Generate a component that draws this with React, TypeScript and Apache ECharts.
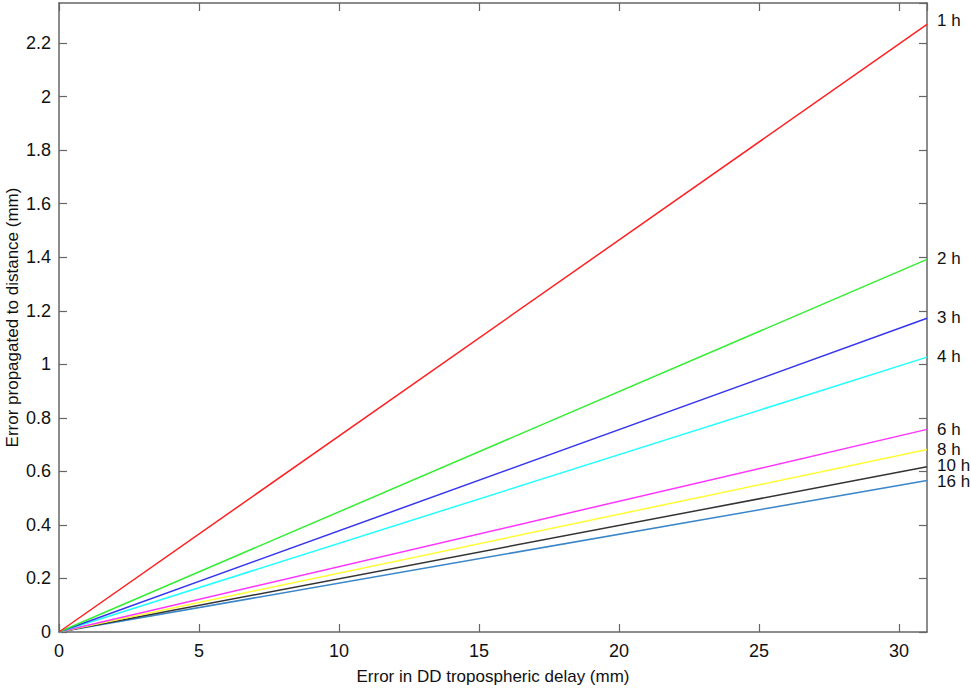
import React, { useEffect, useRef } from "react";
import * as echarts from "echarts";

const xEnds = [0, 31];
const seriesNames = ["1 h", "2 h", "3 h", "4 h", "6 h", "8 h", "10 h", "16 h"];
const endValues = [2.27, 1.392, 1.172, 1.027, 0.757, 0.682, 0.617, 0.566];
const colors = ["#ff2020", "#33ee33", "#3535f0", "#22ffff", "#ff33ff", "#ffff33", "#333333", "#3a86c8"];
const labelOffsetsY = [-4, -1, -1, -1, 0, 0, -1, 1];
const xTicks = [0, 5, 10, 15, 20, 25, 30];
const yTicks = [0, 0.2, 0.4, 0.6, 0.8, 1, 1.2, 1.4, 1.6, 1.8, 2, 2.2];

const FONT = "Liberation Sans, Arial, sans-serif";
const AXIS_COLOR = "#666666";
const FS = 18;

export default function App() {
  const ref = useRef<HTMLDivElement>(null);
  useEffect(() => {
    if (!ref.current) return;
    const chart = echarts.init(ref.current, undefined, { renderer: "svg" });
    const axisLine = { show: true, onZero: false, lineStyle: { color: AXIS_COLOR, width: 1.5 } };
    const tick = { show: true, inside: true, length: 8, lineStyle: { color: AXIS_COLOR, width: 1.2 } };
    const series = seriesNames.map((name, i) => ({
      name,
      type: "line",
      data: xEnds.map((x, j) => [x, j === 0 ? 0 : endValues[i]]),
      showSymbol: false,
      symbol: "none",
      lineStyle: { color: colors[i], width: 1.5 },
      itemStyle: { color: colors[i] },
      endLabel: {
        show: true,
        formatter: name,
        color: "#111",
        fontSize: 17,
        fontFamily: FONT,
        offset: [2, labelOffsetsY[i]],
      },
      z: 10 - i,
    }));
    chart.setOption({
      animation: false,
      backgroundColor: "#ffffff",
      grid: { left: 59, top: 3, right: 44, bottom: 59, containLabel: false, outerBoundsMode: "none" },
      xAxis: [
        {
          type: "value",
          min: 0,
          max: 31,
          interval: 5,
          name: "Error in DD tropospheric delay (mm)",
          nameLocation: "middle",
          nameGap: 36,
          nameMoveOverlap: false,
          nameTextStyle: { fontSize: 17, fontFamily: FONT, color: "#111" },
          axisLine,
          axisTick: tick,
          splitLine: { show: false },
          axisLabel: {
            fontSize: FS,
            fontFamily: FONT,
            color: "#111",
            margin: 10,
            showMaxLabel: false,
            formatter: (v: number) => (xTicks.includes(v) ? String(v) : ""),
          },
        },
        {
          type: "value",
          position: "top",
          min: 0,
          max: 31,
          interval: 5,
          axisLine,
          axisTick: tick,
          splitLine: { show: false },
          axisLabel: { show: false },
        },
      ],
      yAxis: [
        {
          type: "value",
          min: 0,
          max: 2.35,
          interval: 0.2,
          name: "Error propagated to distance (mm)",
          nameLocation: "middle",
          nameGap: 38,
          nameMoveOverlap: false,
          nameTextStyle: { fontSize: 17, fontFamily: FONT, color: "#111" },
          axisLine,
          axisTick: tick,
          splitLine: { show: false },
          axisLabel: {
            fontSize: FS,
            fontFamily: FONT,
            color: "#111",
            margin: 8,
            showMaxLabel: false,
            formatter: (v: number) => {
              const r = Math.round(v * 10) / 10;
              return yTicks.some((t) => Math.abs(t - r) < 1e-6) ? String(r) : "";
            },
          },
        },
        {
          type: "value",
          position: "right",
          min: 0,
          max: 2.35,
          interval: 0.2,
          axisLine,
          axisTick: tick,
          splitLine: { show: false },
          axisLabel: { show: false },
        },
      ],
      series,
    });
    return () => chart.dispose();
  }, []);
  return (
    <div
      ref={ref}
      style={{ position: "fixed", left: 0, top: 0, width: 971, height: 691, background: "#fff" }}
    />
  );
}
